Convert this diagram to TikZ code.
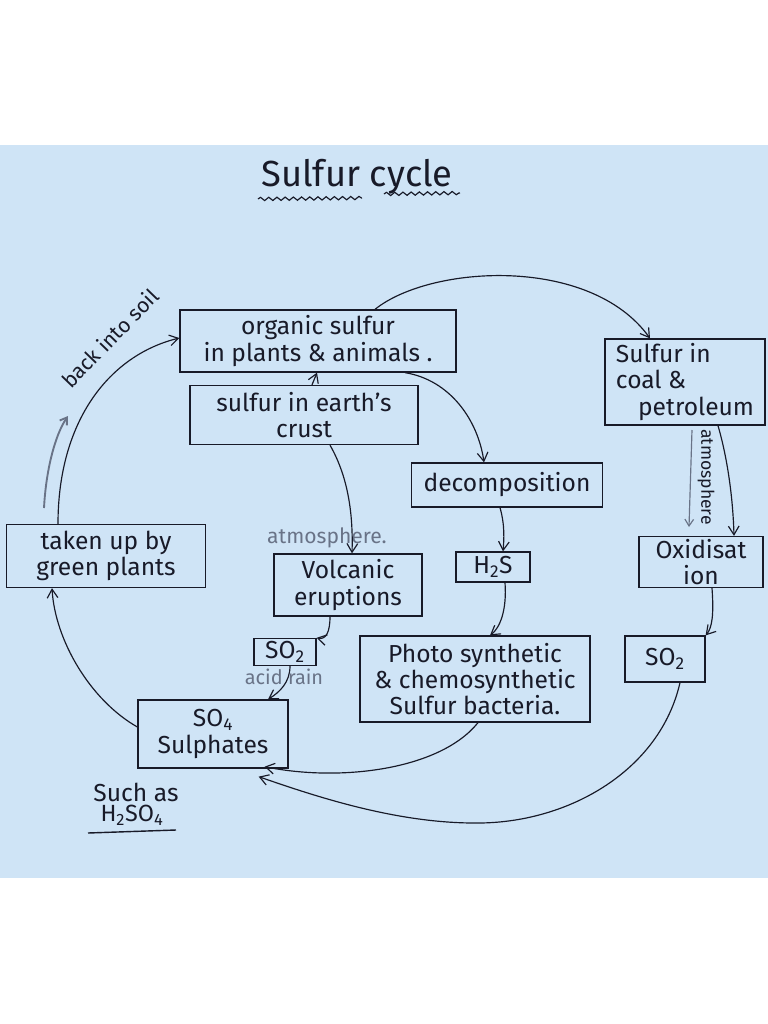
\documentclass[tikz,border=0pt]{standalone}
\usepackage{fontspec}
\setmainfont{Fira Sans}
\usetikzlibrary{arrows.meta,calc,decorations.pathmorphing}
\definecolor{paper}{RGB}{207,228,246}
\definecolor{ink}{RGB}{24,26,40}
\definecolor{pencil}{RGB}{105,115,135}

\begin{document}
\begin{tikzpicture}[x=0.03cm,y=-0.03cm,
  stage/.style={draw=ink,line width=1.1pt,align=center,inner sep=2pt,
    text=ink,font=\fontsize{21}{22.5}\selectfont},
  flow/.style={draw=ink,line width=1pt,
    -{Straight Barb[length=2.6mm,width=3.2mm]}},
  remark/.style={text=ink,font=\fontsize{18}{20}\selectfont},
  faint/.style={remark,text=pencil},
  hint/.style={draw=pencil,line width=1.6pt,
    -{Straight Barb[length=2mm,width=2.6mm]}},
  squiggle/.style={draw=ink,line width=1pt,decorate,
    decoration={snake,amplitude=1.4pt,segment length=7pt}}
]
% Page of the photo: white margins round the blue sheet.
\useasboundingbox (0,0) rectangle (768,1024);
\fill[paper] (0,145) rectangle (768,878);

\node[text=ink,font=\fontsize{31}{34}\selectfont] (title) at (357,177) {Sulfur cycle};
\draw[squiggle] (258,199) -- (362,198);
\draw[squiggle] (384,194) -- (460,193);

\node[stage,minimum width=8.28cm,minimum height=1.86cm] (organic) at (318,341)
  {organic sulfur\\in plants \& animals .};
\node[stage,minimum width=6.84cm,minimum height=1.77cm] (crust) at (304,415)
  {sulfur in earth's\\crust};
\node[stage,minimum width=4.8cm,minimum height=2.58cm,align=left] (coal) at (685,382)
  {Sulfur in\\coal \&\\\hspace{0.9em}petroleum};
\node[stage,minimum width=5.73cm,minimum height=1.32cm] (decomp) at (507,485)
  {decomposition};
\node[stage,minimum width=5.97cm,minimum height=1.89cm] (uptake) at (106,556)
  {taken up by\\green plants};
\node[stage,minimum width=4.44cm,minimum height=1.86cm] (volcano) at (348,585)
  {Volcanic\\eruptions};
\node[stage,minimum width=2.22cm,minimum height=0.9cm] (hydrogen) at (493,567)
  {H\textsubscript{2}S};
\node[stage,minimum width=3.72cm,minimum height=1.53cm] (oxid) at (701,562)
  {Oxidisat\\ion};
\node[stage,minimum width=1.86cm,minimum height=0.81cm] (dioxideL) at (285,652)
  {SO\textsubscript{2}};
\node[stage,minimum width=6.9cm,minimum height=2.58cm] (bacteria) at (475,679)
  {Photo synthetic\\\& chemosynthetic\\Sulfur bacteria.};
\node[stage,minimum width=2.4cm,minimum height=1.38cm] (dioxideR) at (665,659)
  {SO\textsubscript{2}};
\node[stage,minimum width=4.5cm,minimum height=2.04cm] (sulphates) at (213,734)
  {SO\textsubscript{4}\\Sulphates};

\node[remark,rotate=46] (soil) at (110,338) {back into soil};
\node[faint] (atmoL) at (327,538) {atmosphere.};
\node[faint,font=\fontsize{17}{19}\selectfont] (rain) at (284,677) {acid rain};
\node[remark,rotate=-90,font=\fontsize{15}{17}\selectfont] (atmoR) at (706,477) {atmosphere};
\node[remark,font=\fontsize{21}{23}\selectfont] (such) at (136,792) {Such as};
\node[remark,font=\fontsize{20}{22}\selectfont] (acid) at (132,815) {H\textsubscript{2}SO\textsubscript{4}};
\draw[ink,line width=1.2pt] (88,833) -- (176,830);

\coordinate (soilTail) at (44,508);
\coordinate (soilTip) at (68,416);
\draw[hint] (soilTail) .. controls (46,470) and (55,435) .. (soilTip);
\coordinate (atmoTail) at (692,430);
\coordinate (atmoTip) at (689,527);
\draw[hint,line width=1pt] (atmoTail) -- (atmoTip);

\draw[flow] ($(organic.north)+(57,0)$) .. controls (430,265) and (590,255) .. ($(coal.north)+(-35,0)$);
\draw[flow] ($(organic.south)+(87,0)$) .. controls (450,380) and (478,420) .. ($(decomp.north)+(-23,0)$);
\draw[flow] ($(crust.north)+(8,0)$) -- ($(organic.south)+(-1,0)$);
\draw[flow] ($(crust.south)+(26,0)$) .. controls (350,480) and (353,520) .. ($(volcano.north)+(4,0)$);
\draw[flow] ($(decomp.south)+(-7,0)$) .. controls (505,525) and (504,540) .. ($(hydrogen.north)+(10,0)$);
\draw[flow] ($(hydrogen.south)+(12,0)$) .. controls (507,610) and (500,628) .. ($(bacteria.north)+(15,0)$);
\draw[flow] ($(volcano.south)+(-18,0)$) .. controls (330,632) and (326,640) .. (dioxideL.north east);
\draw[flow] ($(dioxideL.south)+(5,0)$) .. controls (290,682) and (280,692) .. ($(sulphates.north)+(55,0)$);
\draw[flow] ($(bacteria.south)+(3,0)$) .. controls (440,770) and (340,782) .. ($(sulphates.south east)+(-24,-2)$);
\draw[flow] ($(dioxideR.south)+(15,0)$) .. controls (660,770) and (570,822) .. (480,823)
  .. controls (400,824) and (320,798) .. ($(sulphates.south east)+(-30,8)$);
\draw[flow] ($(oxid.south)+(11,0)$) .. controls (714,615) and (712,628) .. (dioxideR.north east);
\draw[flow] ($(coal.south)+(33,0)$) .. controls (728,460) and (733,500) .. ($(oxid.north)+(33,0)$);
\draw[flow] ($(sulphates.west)+(0,-7)$) .. controls (90,700) and (55,640) .. ($(uptake.south)+(-54,0)$);
\draw[flow] ($(uptake.north)+(-48,0)$) .. controls (58,420) and (110,355) .. ($(organic.west)+(0,-3)$);
\end{tikzpicture}
\end{document}
